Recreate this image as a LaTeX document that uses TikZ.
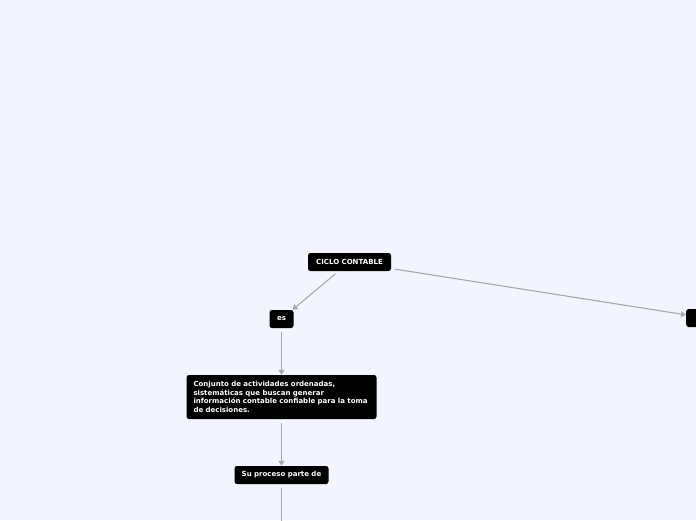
\documentclass[tikz,border=0pt]{standalone}
\usepackage{fontspec}
\setmainfont{DejaVu Sans}
\usetikzlibrary{arrows.meta}
\definecolor{bgcol}{RGB}{243,245,254}
\definecolor{linecol}{RGB}{168,168,176}
\tikzset{
  mapbox/.style={fill=black, text=white, rounded corners=2.5pt, inner sep=0pt,
    font=\fontsize{7}{8.7}\selectfont\bfseries, align=center},
  conn/.style={draw=linecol, line width=1.1pt, shorten <=4pt,
    -{Triangle[length=5pt,width=6pt]}},
  plainconn/.style={draw=linecol, line width=1.1pt, shorten <=4pt}
}
\begin{document}
\begin{tikzpicture}[x=1pt,y=1pt]
\fill[bgcol] (0,0) rectangle (696,-520);
\useasboundingbox (0,0) rectangle (696,-520);
\node[mapbox, minimum width=83pt, minimum height=18pt] (ciclo) at (349.5,-262) {CICLO CONTABLE};
\node[mapbox, minimum width=24pt, minimum height=18pt] (es) at (281.5,-319) {es};
\node[mapbox, minimum width=190pt, minimum height=44pt, text width=176pt, align=left] (conj) at (281.5,-397)
  {Conjunto de actividades ordenadas,\\sistemáticas que buscan generar\\información contable confiable para la toma\\de decisiones.};
\node[mapbox, minimum width=94pt, minimum height=18pt] (su) at (281.5,-475) {Su proceso parte de};
\node[mapbox, minimum width=40pt, minimum height=18pt, anchor=west] (right) at (686,-318) {};
\coordinate (down) at (281.5,-530);
\draw[conn] (ciclo) -- (es);
\draw[conn] (ciclo) -- (right);
\draw[conn] (es) -- (conj);
\draw[conn] (conj) -- (su);
\draw[plainconn] (su) -- (down);
\end{tikzpicture}
\end{document}
